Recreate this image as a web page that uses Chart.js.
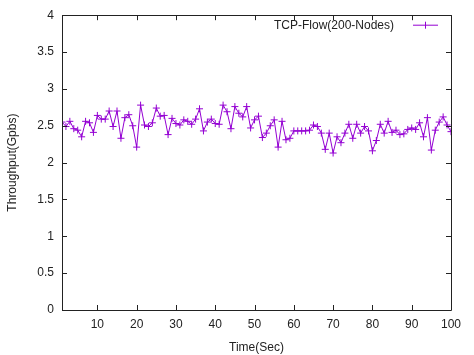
<!DOCTYPE html>
<html>
<head>
<meta charset="utf-8">
<script src="https://cdn.jsdelivr.net/npm/chart.js@4/dist/chart.umd.min.js"></script>
<style>
html,body{margin:0;padding:0;background:#fff;}
#wrap{width:474px;height:355px;position:relative;}
</style>
</head>
<body>
<div id="wrap"><canvas id="c" width="474" height="355"></canvas></div>
<script>
const seriesLabel = "TCP-Flow(200-Nodes)";
const times = [];
for (let t = 1; t <= 100; t++) times.push(t);
const throughput = [
  2.55, 2.49, 2.56, 2.46, 2.44, 2.35, 2.56, 2.54, 2.41, 2.64,
  2.59, 2.59, 2.70, 2.49, 2.70, 2.33, 2.61, 2.65, 2.50, 2.21,
  2.78, 2.51, 2.49, 2.54, 2.74, 2.63, 2.64, 2.38, 2.60, 2.53,
  2.51, 2.58, 2.56, 2.52, 2.59, 2.73, 2.43, 2.55, 2.59, 2.53,
  2.52, 2.78, 2.69, 2.46, 2.76, 2.67, 2.62, 2.76, 2.47, 2.58,
  2.63, 2.34, 2.40, 2.50, 2.58, 2.21, 2.56, 2.31, 2.33, 2.43,
  2.43, 2.43, 2.43, 2.44, 2.51, 2.49, 2.40, 2.18, 2.40, 2.13,
  2.35, 2.27, 2.40, 2.52, 2.33, 2.52, 2.40, 2.49, 2.43, 2.16,
  2.30, 2.52, 2.40, 2.56, 2.41, 2.44, 2.38, 2.39, 2.45, 2.47,
  2.45, 2.54, 2.35, 2.61, 2.17, 2.44, 2.55, 2.62, 2.51, 2.42
];
const xTicks = [10, 20, 30, 40, 50, 60, 70, 80, 90, 100];
const yTicks = [0, 0.5, 1, 1.5, 2, 2.5, 3, 3.5, 4];
const xTitle = "Time(Sec)";
const yTitle = "Throughput(Gpbs)";

const lineColor = "#9400d3";
const axisColor = "#222";
const FONT = "Liberation Sans, Arial, sans-serif";

const framePlugin = {
  id: "frame",
  afterDatasetsDraw(chart) {
    const ctx = chart.ctx;
    const a = chart.chartArea;
    const xs = chart.scales.x, ys = chart.scales.y;
    ctx.save();
    ctx.strokeStyle = axisColor;
    ctx.lineWidth = 1;
    ctx.beginPath();
    ctx.rect(Math.round(a.left) + 0.5, Math.round(a.top) + 0.5,
             Math.round(a.right - a.left), Math.round(a.bottom - a.top));
    ctx.stroke();
    const L = 5;
    ctx.beginPath();
    xTicks.forEach(v => {
      const px = Math.round(xs.getPixelForValue(v)) + 0.5;
      ctx.moveTo(px, a.bottom); ctx.lineTo(px, a.bottom - L);
      ctx.moveTo(px, a.top); ctx.lineTo(px, a.top + L);
    });
    yTicks.forEach(v => {
      const py = Math.round(ys.getPixelForValue(v)) + 0.5;
      ctx.moveTo(a.left, py); ctx.lineTo(a.left + L, py);
      ctx.moveTo(a.right, py); ctx.lineTo(a.right - L, py);
    });
    ctx.stroke();
    const ds = chart.data.datasets[0];
    ctx.font = "12px " + FONT;
    ctx.fillStyle = axisColor;
    ctx.textAlign = "right";
    ctx.textBaseline = "middle";
    const ky = a.top + 10;
    ctx.fillText(ds.label, a.right - 57, ky);
    ctx.strokeStyle = lineColor;
    ctx.beginPath();
    ctx.moveTo(a.right - 38, ky); ctx.lineTo(a.right - 13, ky);
    const mx = a.right - 25.5;
    ctx.moveTo(mx, ky - 3.5); ctx.lineTo(mx, ky + 3.5);
    ctx.stroke();
    ctx.restore();
  }
};

new Chart(document.getElementById("c"), {
  type: "line",
  data: {
    datasets: [{
      label: seriesLabel,
      data: times.map((t, i) => ({ x: t, y: throughput[i] })),
      borderColor: lineColor,
      backgroundColor: lineColor,
      borderWidth: 1,
      pointStyle: "cross",
      pointRadius: 3.5,
      pointBorderWidth: 1,
      pointHoverRadius: 3.5,
      tension: 0,
      fill: false
    }]
  },
  options: {
    responsive: false,
    animation: false,
    events: [],
    layout: { padding: { top: 15, right: 23, left: 0, bottom: 0 } },
    plugins: { legend: { display: false }, tooltip: { enabled: false } },
    scales: {
      x: {
        type: "linear",
        min: 1, max: 100,
        afterBuildTicks: s => { s.ticks = xTicks.map(v => ({ value: v })); },
        afterFit: s => { s.height = 45; },
        grid: { display: false, drawTicks: false },
        border: { display: false },
        ticks: { color: axisColor, font: { family: FONT, size: 12 }, padding: 7, maxRotation: 0, autoSkip: false },
        title: { display: true, text: xTitle, color: axisColor, font: { family: FONT, size: 12 }, padding: { top: 4, bottom: 0 } }
      },
      y: {
        type: "linear",
        min: 0, max: 4,
        afterBuildTicks: s => { s.ticks = yTicks.map(v => ({ value: v })); },
        afterFit: s => { s.width = 62; },
        grid: { display: false, drawTicks: false },
        border: { display: false },
        ticks: { color: axisColor, font: { family: FONT, size: 12 }, padding: 8, autoSkip: false,
                 callback: v => String(v) },
        title: { display: true, text: yTitle, color: axisColor, font: { family: FONT, size: 12 }, padding: { top: 5, bottom: 0 } }
      }
    }
  },
  plugins: [framePlugin]
});
</script>
</body>
</html>
